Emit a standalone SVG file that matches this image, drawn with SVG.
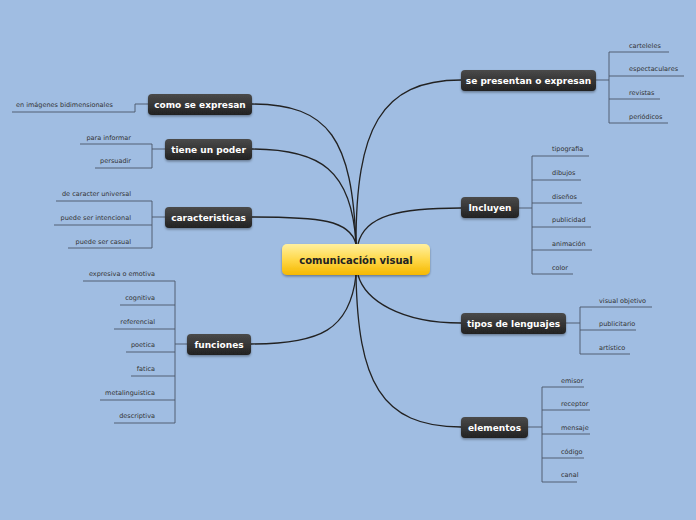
<svg xmlns="http://www.w3.org/2000/svg" width="696" height="520" viewBox="0 0 696 520">
<defs>
<linearGradient id="gy" x1="0" y1="0" x2="0" y2="1"><stop offset="0" stop-color="#fff0a0"/><stop offset="0.5" stop-color="#ffd84a"/><stop offset="1" stop-color="#f5b800"/></linearGradient>
<linearGradient id="gd" x1="0" y1="0" x2="0" y2="1"><stop offset="0" stop-color="#4a4a4a"/><stop offset="1" stop-color="#222"/></linearGradient>
<filter id="sh" x="-10%" y="-20%" width="120%" height="150%"><feDropShadow dx="0" dy="1.5" stdDeviation="1" flood-color="#000" flood-opacity="0.35"/></filter>
</defs>
<style>
.n rect{fill:url(#gd);filter:url(#sh)}
.n text{fill:#fff;font:bold 9px "DejaVu Sans",sans-serif;text-anchor:middle}
.l{fill:#333;font:6.5px "DejaVu Sans",sans-serif}
.r{text-anchor:end}
.c path{fill:none;stroke:#222;stroke-width:1.3}
.b path{fill:none;stroke:#4a5566;stroke-width:0.9}
</style>
<rect width="696" height="520" fill="#a0bde2"/>
<g class="c">
<path d="M356 244 C356 130,380 80,461 80"/>
<path d="M358 244 C365 215,400 208,461 208"/>
<path d="M358 275 C365 300,400 323,461 323"/>
<path d="M356 275 C358 380,380 427,461 427"/>
<path d="M356 244 C352 140,330 104,252 104"/>
<path d="M356 244 C352 170,320 149,252 149"/>
<path d="M356 244 C350 220,320 217,252 217"/>
<path d="M356 275 C350 330,320 344,251 344"/>
</g>
<g class="b">
<path d="M596 80H609M609 52V123M609 52H669M609 76H684M609 99H660M609 123H668"/>
<path d="M519 208H532M532 156V274M532 156H589M532 180H581M532 203H582M532 227H591M532 250H592M532 274H573"/>
<path d="M566 323H580M580 307V354M580 307H652M580 330H636M580 354H630"/>
<path d="M528 427H542M542 387V482M542 387H584M542 410H590M542 434H590M542 458H584M542 482H577"/>
<path d="M148 104H135V112H12"/>
<path d="M165 149H152M152 144V168M152 144H80M152 168H95"/>
<path d="M165 217H152M152 201V248M152 201H56M152 225H54M152 248H68"/>
<path d="M187 344H175M175 281V423M175 281H83M175 305H120M175 329H114M175 352H126M175 376H131M175 400H100M175 423H114"/>
</g>
<g id="center"><rect x="282" y="244" width="148" height="31" rx="5" fill="url(#gy)" filter="url(#sh)"/><text x="356" y="263.5" font-family="DejaVu Sans,sans-serif" font-weight="bold" font-size="10" text-anchor="middle" fill="#222">comunicación visual</text></g>
<g id="n1" class="n"><rect x="461" y="70" width="135" height="21" rx="4"/><text x="528.5" y="84">se presentan o expresan</text></g>
<g id="n2" class="n"><rect x="461" y="197" width="58" height="21" rx="4"/><text x="490" y="211">Incluyen</text></g>
<g id="n3" class="n"><rect x="461" y="313" width="105" height="21" rx="4"/><text x="513.5" y="327">tipos de lenguajes</text></g>
<g id="n4" class="n"><rect x="461" y="417" width="67" height="21" rx="4"/><text x="494.5" y="431">elementos</text></g>
<g id="n5" class="n"><rect x="148" y="94" width="104" height="21" rx="4"/><text x="200" y="108">como se expresan</text></g>
<g id="n6" class="n"><rect x="165" y="139" width="87" height="21" rx="4"/><text x="208.5" y="153">tiene un poder</text></g>
<g id="n7" class="n"><rect x="165" y="207" width="87" height="21" rx="4"/><text x="208.5" y="221">caracteristicas</text></g>
<g id="n8" class="n"><rect x="187" y="334" width="64" height="21" rx="4"/><text x="219" y="348">funciones</text></g>
<g>
<text class="l" x="629" y="48">carteleles</text><text class="l" x="629" y="71">espectaculares</text><text class="l" x="629" y="95">revistas</text><text class="l" x="629" y="119">periódicos</text>
<text class="l" x="552" y="151">tipografia</text><text class="l" x="552" y="175">dibujos</text><text class="l" x="552" y="199">diseños</text><text class="l" x="552" y="222">publicidad</text><text class="l" x="552" y="246">animación</text><text class="l" x="552" y="270">color</text>
<text class="l" x="599" y="303">visual objetivo</text><text class="l" x="599" y="326">publicitario</text><text class="l" x="599" y="350">artístico</text>
<text class="l" x="561" y="383">emisor</text><text class="l" x="561" y="406">receptor</text><text class="l" x="561" y="430">mensaje</text><text class="l" x="561" y="454">código</text><text class="l" x="561" y="477">canal</text>
<text class="l" x="16" y="107">en imágenes bidimensionales</text>
<text class="l r" x="131" y="140">para informar</text><text class="l r" x="131" y="163">persuadir</text>
<text class="l r" x="131" y="196">de caracter universal</text><text class="l r" x="131" y="220">puede ser intencional</text><text class="l r" x="131" y="244">puede ser casual</text>
<text class="l r" x="155" y="276">expresiva o emotiva</text><text class="l r" x="155" y="300">cognitiva</text><text class="l r" x="155" y="324">referencial</text><text class="l r" x="155" y="347">poetica</text><text class="l r" x="155" y="371">fatica</text><text class="l r" x="155" y="395">metalinguistica</text><text class="l r" x="155" y="418">descriptiva</text>
</g>
</svg>
